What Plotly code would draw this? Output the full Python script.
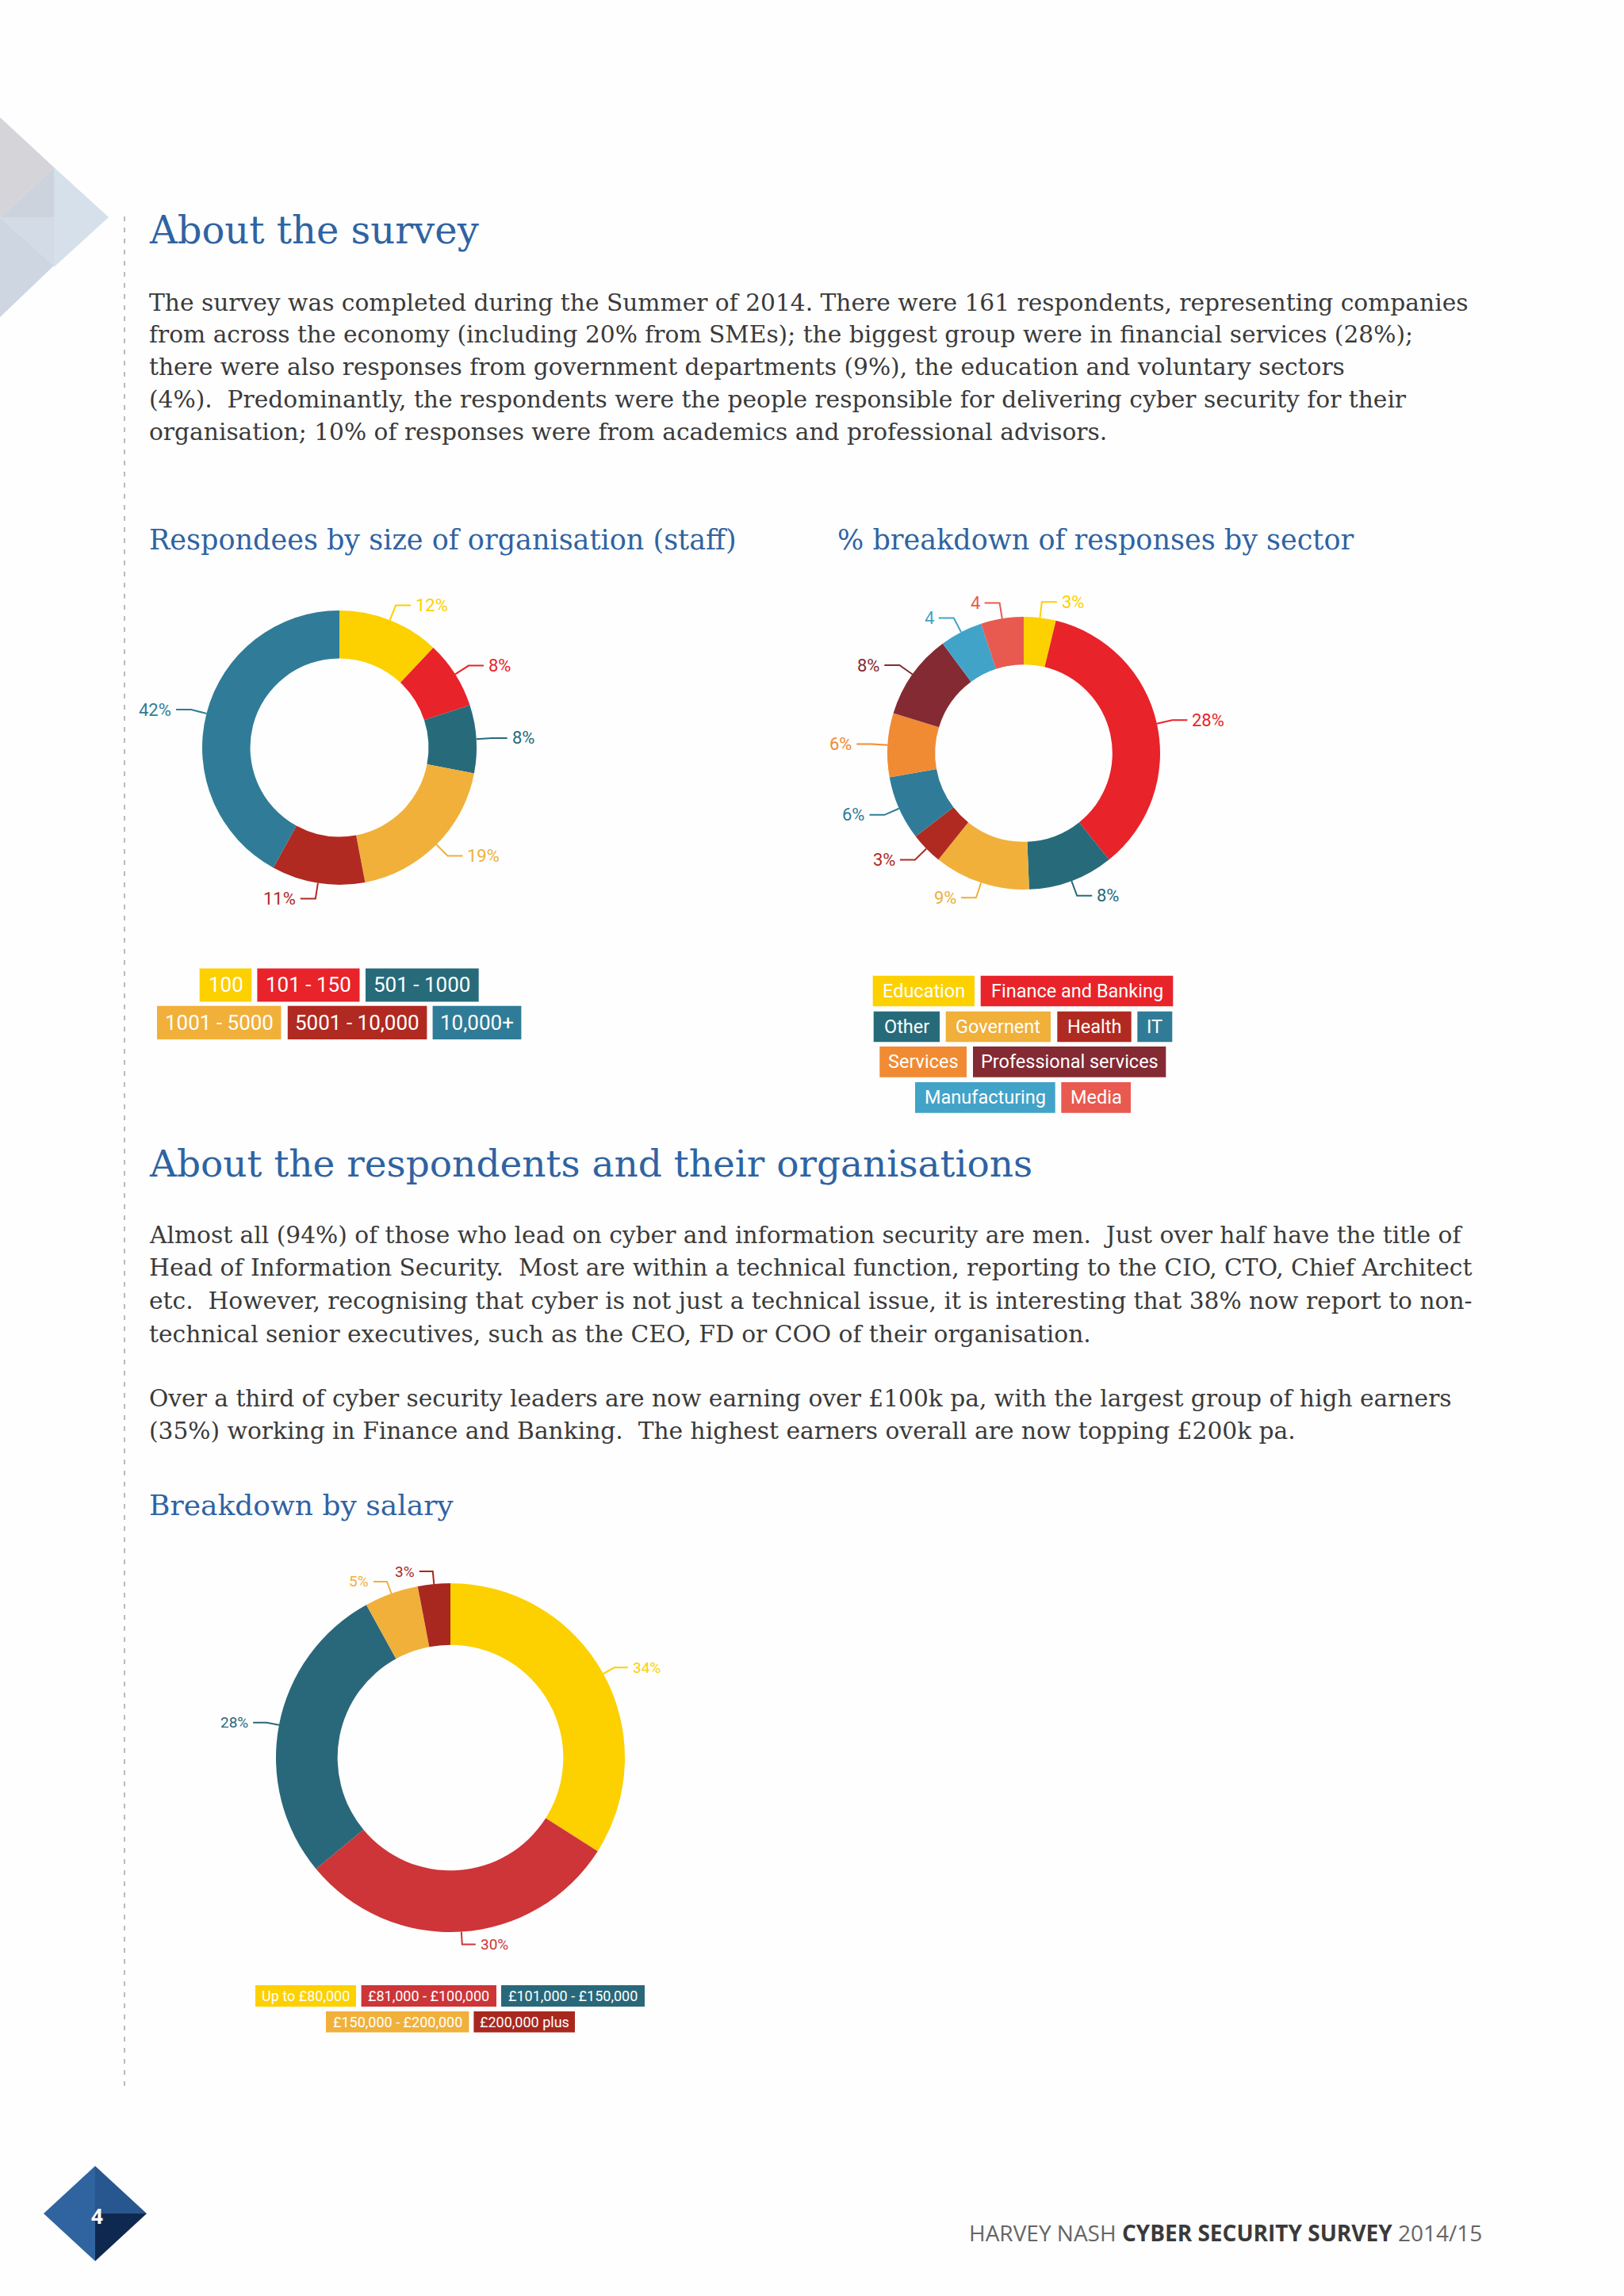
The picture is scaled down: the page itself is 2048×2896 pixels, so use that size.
import math
import plotly.graph_objects as go

W, H = 2048, 2896

# ---------------- data ----------------
size_labels = ["100", "101 - 150", "501 - 1000", "1001 - 5000", "5001 - 10,000", "10,000+"]
size_values = [12, 8, 8, 19, 11, 42]
size_text = ["12%", "8%", "8%", "19%", "11%", "42%"]

sector_labels = ["Education", "Finance and Banking", "Other", "Governent", "Health", "IT",
                 "Services", "Professional services", "Manufacturing", "Media"]
sector_values = [3, 28, 8, 9, 3, 6, 6, 8, 4, 4]
sector_text = ["3%", "28%", "8%", "9%", "3%", "6%", "6%", "8%", "4", "4"]

salary_labels = ["Up to £80,000", "£81,000 - £100,000", "£101,000 - £150,000",
                 "£150,000 - £200,000", "£200,000 plus"]
salary_values = [34, 30, 28, 5, 3]
salary_text = ["34%", "30%", "28%", "5%", "3%"]

# ---------------- styles ----------------
size_colors = ["#FDD000", "#E8232A", "#276B7B", "#F0B03A", "#B12A21", "#307C98"]
sector_colors = ["#FDD000", "#E8232A", "#276B7B", "#F0B03A", "#B12A21", "#307C98",
                 "#F08B33", "#842A33", "#42A3C8", "#E85A50"]
salary_colors = ["#FDD000", "#CD3538", "#29687A", "#F0B03A", "#A8281F"]

BLUE = "#2F63A2"
TEXT = "#3A3A3A"
SERIF = "DejaVu Serif, Liberation Serif, serif"
NARROW = "Roboto, Liberation Sans Narrow, sans-serif"
SANS = "Open Sans, Lato, sans-serif"


def X(x):
    return x / W


def Y(y):
    return 1 - y / H


fig = go.Figure()
shapes = []
annots = []


def text(x, y, s, size, color, family, xanchor="left", yanchor="middle"):
    annots.append(dict(x=X(x), y=Y(y), xref="paper", yref="paper", text=s, showarrow=False,
                       xanchor=xanchor, yanchor=yanchor,
                       font=dict(size=size, color=color, family=family)))


def poly(pts, color):
    path = "M " + " L ".join(f"{X(a):.5f},{Y(b):.5f}" for a, b in pts) + " Z"
    shapes.append(dict(type="path", path=path, xref="paper", yref="paper",
                       fillcolor=color, line=dict(width=0), layer="below"))


def donut(vals, cols, texts, cx, cy, R, hole, ext, hlen, fsize, family):
    fig.add_trace(go.Pie(values=vals, marker=dict(colors=cols, line=dict(width=0)),
                         hole=hole, sort=False, direction="clockwise", rotation=0,
                         textinfo="none", hoverinfo="skip", showlegend=False,
                         domain=dict(x=[(cx - R) / W, (cx + R) / W],
                                     y=[1 - (cy + R) / H, 1 - (cy - R) / H])))
    total = float(sum(vals))
    cum = 0.0
    for v, c, t in zip(vals, cols, texts):
        mid = (cum + v / 2.0) / total * 2 * math.pi
        cum += v
        s, co = math.sin(mid), math.cos(mid)
        x1, y1 = cx + R * s, cy - R * co
        x2, y2 = cx + (R + ext) * s, cy - (R + ext) * co
        sign = 1 if s >= 0 else -1
        x3 = x2 + sign * hlen
        path = f"M {X(x1):.5f},{Y(y1):.5f} L {X(x2):.5f},{Y(y2):.5f} L {X(x3):.5f},{Y(y2):.5f}"
        shapes.append(dict(type="path", path=path, xref="paper", yref="paper",
                           line=dict(color=c, width=2)))
        text(x3 + sign * 4, y2, t, fsize, c, family,
             xanchor="left" if sign > 0 else "right")


def legend_boxes(rows, labels, cols, fsize, family):
    for (y0, y1), items in rows:
        for idx, x0, x1 in items:
            shapes.append(dict(type="rect", x0=X(x0), x1=X(x1), y0=Y(y0), y1=Y(y1),
                               xref="paper", yref="paper", fillcolor=cols[idx],
                               line=dict(width=0), layer="below"))
            text((x0 + x1) / 2, (y0 + y1) / 2, labels[idx], fsize, "white", family,
                 xanchor="center")


# ---------------- page decoration ----------------
poly([(0, 148), (68, 211), (0, 274)], "#D5D4D9")
poly([(68, 211), (68, 274), (0, 274)], "#CDD3DD")
poly([(68, 211), (137, 274), (68, 337)], "#D6E0EA")
poly([(0, 274), (68, 274), (68, 335)], "#D3DBE6")
poly([(0, 274), (68, 335), (0, 400)], "#CDD6E1")

shapes.append(dict(type="line", x0=X(157), x1=X(157), y0=Y(273), y1=Y(2637),
                   xref="paper", yref="paper",
                   line=dict(color="#A5A5A5", width=1.5, dash="6px,8px")))

# footer diamond
poly([(120, 2732), (55, 2792), (120, 2852)], "#2F64A0")
poly([(120, 2732), (185, 2792), (120, 2792)], "#28568F")
poly([(120, 2792), (185, 2792), (120, 2852)], "#0F2850")
text(122, 2795, "<b>4</b>", 26, "white", SANS, xanchor="center")
text(1871, 2816,
     "<span style='color:#666'>HARVEY NASH </span><b>CYBER SECURITY SURVEY</b>"
     "<span style='color:#666'> 2014/15</span>",
     28, "#3A3A3A", SANS, xanchor="right")

# ---------------- text blocks ----------------
text(186, 290, "About the survey", 48, BLUE, SERIF)

para1 = [
    "The survey was completed during the Summer of 2014. There were 161 respondents, representing companies",
    "from across the economy (including 20% from SMEs); the biggest group were in financial services (28%);",
    "there were also responses from government departments (9%), the education and voluntary sectors",
    "(4%).  Predominantly, the respondents were the people responsible for delivering cyber security for their",
    "organisation; 10% of responses were from academics and professional advisors.",
]
for i, line in enumerate(para1):
    text(186, 381 + i * 40.9, line, 29.7, TEXT, SERIF)

text(186, 681, "Respondees by size of organisation (staff)", 35, BLUE, SERIF)
text(1054, 681, "% breakdown of responses by sector", 35, BLUE, SERIF)

text(186, 1468, "About the respondents and their organisations", 47, BLUE, SERIF)
para2 = [
    "Almost all (94%) of those who lead on cyber and information security are men.  Just over half have the title of",
    "Head of Information Security.  Most are within a technical function, reporting to the CIO, CTO, Chief Architect",
    "etc.  However, recognising that cyber is not just a technical issue, it is interesting that 38% now report to non-",
    "technical senior executives, such as the CEO, FD or COO of their organisation.",
]
for i, line in enumerate(para2):
    text(186, 1557 + i * 41.7, line, 29.7, TEXT, SERIF)
para3 = [
    "Over a third of cyber security leaders are now earning over £100k pa, with the largest group of high earners",
    "(35%) working in Finance and Banking.  The highest earners overall are now topping £200k pa.",
]
for i, line in enumerate(para3):
    text(186, 1763 + i * 41.7, line, 29.7, TEXT, SERIF)

text(186, 1898, "Breakdown by salary", 36, BLUE, SERIF)

# ---------------- charts ----------------
donut(size_values, size_colors, size_text, 428, 943, 173, 0.65, 20, 19, 22, NARROW)
donut(sector_values, sector_colors, sector_text, 1291, 950, 172, 0.65, 20, 19, 22, NARROW)
donut(salary_values, salary_colors, salary_text, 568, 2217, 220, 0.647, 16, 17, 19, NARROW)

legend_boxes([
    ((1221.5, 1263.4), [(0, 251.7, 317.3), (1, 324.4, 453.5), (2, 461, 603.7)]),
    ((1268.8, 1311), [(3, 198, 354.5), (4, 362.8, 538.4), (5, 545.6, 657.4)]),
], size_labels, size_colors, 26, NARROW)

legend_boxes([
    ((1230.7, 1269.3), [(0, 1100.7, 1229), (1, 1236.7, 1479.3)]),
    ((1275.7, 1314.3), [(2, 1101.7, 1185), (3, 1192.7, 1325), (4, 1333.3, 1426.7), (5, 1434.3, 1478.3)]),
    ((1320, 1358.7), [(6, 1109.3, 1219), (7, 1227, 1470.3)]),
    ((1365, 1403.7), [(8, 1154, 1330.7), (9, 1338.3, 1426)]),
], sector_labels, sector_colors, 23.5, NARROW)

legend_boxes([
    ((2504, 2531), [(0, 322, 449), (1, 455.6, 626), (2, 632, 813)]),
    ((2537, 2563.5), [(3, 411, 591.4), (4, 597.4, 725)]),
], salary_labels, salary_colors, 18, NARROW)

fig.update_layout(
    width=W, height=H, margin=dict(l=0, r=0, t=0, b=0),
    paper_bgcolor="#FEFEFE", plot_bgcolor="#FEFEFE",
    shapes=shapes, annotations=annots, showlegend=False,
)

fig.write_html("out.html", config={"displayModeBar": False},
               post_script="document.body.style.margin='0';document.body.style.overflow='hidden';")
